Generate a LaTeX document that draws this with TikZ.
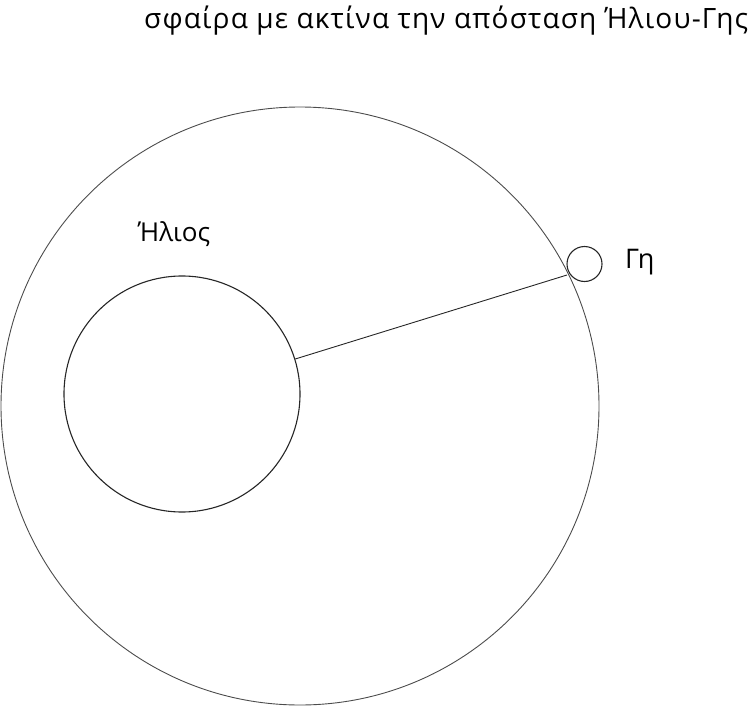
\documentclass[tikz,border=0pt]{standalone}
\usepackage{fontspec}
\setmainfont{Open Sans}
\newfontfamily\titlefont[LetterSpace=4.2]{Open Sans}
\usetikzlibrary{shapes, calc}

\begin{document}
\begin{tikzpicture}[x=1pt, y=-1pt,
						every node/.style={inner sep=0pt},
						body/.style={circle, draw, line width=1.1pt, black!85},
						name text/.style={anchor=base west, font=\fontsize{26}{30}\selectfont}]
					\useasboundingbox (0,0) rectangle (752,706);
					\node [circle, draw, black!70, line width=0.9pt, minimum size=598pt] (sphere) at (300,406) {};
					\node [body, minimum size=236pt] (sun) at (182,394) {};
					\node [body, minimum size=35pt] (earth) at (584.5,264) {};
					\coordinate (touch) at (567,275);

					\node [name text] (sunname) at (138,241) {Ήλιος};
					\node [name text, font=\fontsize{27}{30}\selectfont] (earthname) at (625,268) {Γη};
					\node [name text, font=\titlefont\fontsize{28}{32}\selectfont] (title) at (144,29) {σφαίρα με ακτίνα την απόσταση Ήλιου-Γης};

					\path [draw, black!85, line width=0.9pt] (sun) -- (touch);
				\end{tikzpicture}
\end{document}
